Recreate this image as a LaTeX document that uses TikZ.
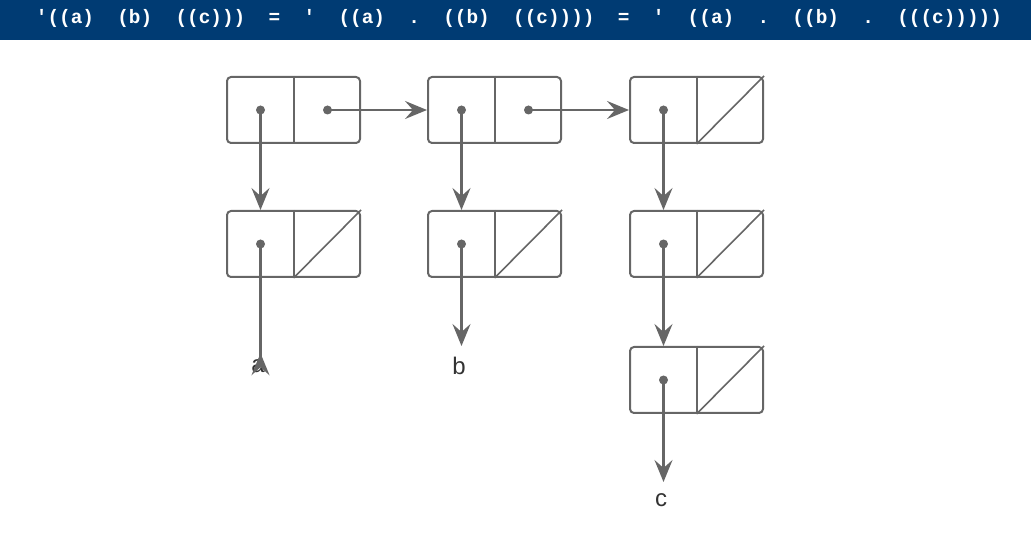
\documentclass[tikz,border=0pt]{standalone}
\usepackage{fontspec}
\setmainfont{Liberation Sans}
\newfontfamily\hdmono{Liberation Mono}
\usetikzlibrary{arrows.meta}
\definecolor{hdr}{HTML}{003B73}
\definecolor{ln}{HTML}{666666}
\begin{document}
\begin{tikzpicture}[x=1pt,y=-1pt,
  cell/.style={draw=ln,line width=2pt,rounded corners=4pt,minimum width=133pt,minimum height=66pt,inner sep=0pt},
  ptr/.style={draw=ln,line width=2.2pt,-{Stealth[length=22pt,width=18pt,inset=8pt]}},
  dot/.style={circle,fill=ln,inner sep=0pt,minimum size=9pt},
  lab/.style={font=\fontsize{24}{24}\selectfont,text=black!80,inner sep=0pt}]
\useasboundingbox (0,0) rectangle (1031,534);
\fill[hdr] (0,0) rectangle (1031,40);
\node[text=white,font=\hdmono\bfseries\fontsize{19.4}{20}\selectfont,inner sep=0pt] (hd) at (519,18)
  {'((a)~~(b)~~((c)))~~=~~'~~((a)~~.~~((b)~~((c))))~~=~~'~~((a)~~.~~((b)~~.~~(((c)))))};
% boxes: name, center
\foreach \n/\cx/\cy/\nil in {b1/293.5/110/0, b2/494.5/110/0, b3/696.5/110/1,
   a1/293.5/244/1, a2/494.5/244/1, a3/696.5/244/1, c1/696.5/380/1}{
  \node[cell] (\n) at (\cx,\cy) {};
  \draw[ln,line width=2pt] (\n.north) -- (\n.south);
  \node[dot] (\n l) at ([xshift=-33pt]\n.center) {};
  \ifnum\nil=1
    \draw[ln,line width=1.6pt] (\n.south) -- (\n.north east);
  \else
    \node[dot] (\n r) at ([xshift=34pt]\n.center) {};
  \fi
}
\node[lab] (la) at (258,366) {a};
\node[lab] (lb) at (459,366) {b};
\node[lab] (lc) at (661,500) {c};
\draw[ptr] (b1r.center) -- (b2.west);
\draw[ptr] (b2r.center) -- (b3.west);
\draw[ptr] (b1l.center) -- (a1l |- a1.north);
\draw[ptr] (b2l.center) -- (a2l |- a2.north);
\draw[ptr] (b3l.center) -- (a3l |- a3.north);
\draw[ptr] (a3l.center) -- (c1l |- c1.north);
\draw[ptr] (a1l.center) -- (a1l |- la.north) -- ++(0,-6);
\draw[ptr] (a2l.center) -- (a2l |- 0,346);
\draw[ptr] (c1l.center) -- (c1l |- 0,482);
\end{tikzpicture}
\end{document}
